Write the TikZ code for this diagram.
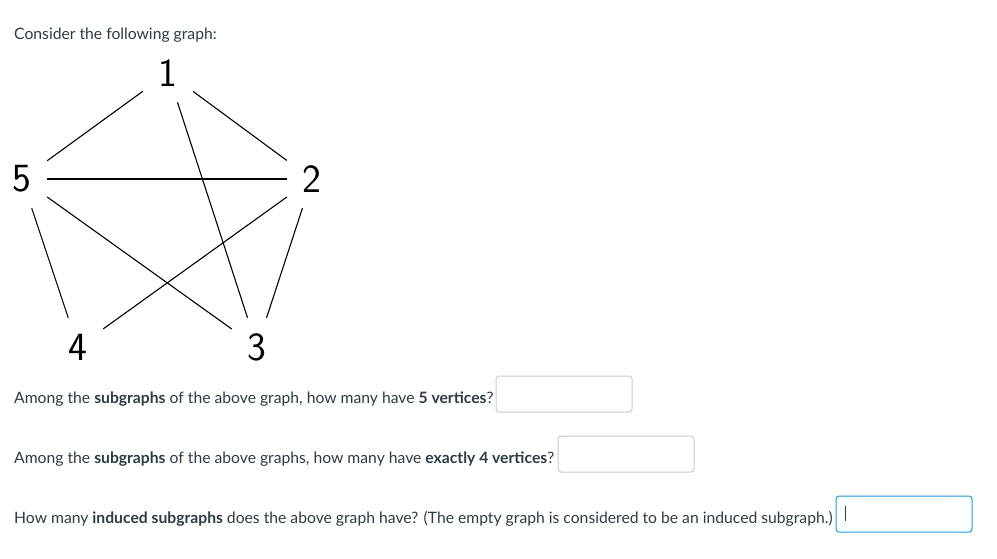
\documentclass[tikz,border=0pt]{standalone}
\usepackage{fontspec}
\setmainfont{Lato}
\usetikzlibrary{positioning}

\definecolor{inktext}{HTML}{2D3B45}
\definecolor{boxgray}{HTML}{C7CDD1}
\definecolor{focusblue}{HTML}{1D9BE0}

\begin{document}
\begin{tikzpicture}[x=1pt,y=-1pt,
    vertex/.style={rectangle,minimum width=50pt,minimum height=58pt,inner sep=0pt,
        font=\fontsize{40}{40}\sffamily},
    edge/.style={line width=1.1pt,black},
    question/.style={anchor=base west,inner sep=0pt,text=inktext,font=\fontsize{15.7}{18}\selectfont},
    answerbox/.style={draw=boxgray,line width=1pt,rounded corners=3pt,fill=white}
    ]
    \useasboundingbox (0,0) rectangle (997,559);
    \node[question] (intro) at (14,40) {Consider the following graph:};
    % the vertices
    \node[vertex] (v1) at (168,73) {1};
    \node[vertex] (v2) at (312,179) {2};
    \node[vertex] (v3) at (257,347) {3};
    \node[vertex] (v4) at (78,347) {4};
    \node[vertex] (v5) at (22,179) {5};
    % the edges
    \foreach \a/\b in {v1/v5,v1/v2,v1/v3,v5/v2,v5/v4,v5/v3,v2/v4,v2/v3}
        \draw[edge] (\a) -- (\b);
    % the questions
    \node[question] (qfive) at (14,403) {Among the \textbf{subgraphs} of the above graph, how many have \textbf{5 vertices}?};
    \draw[answerbox] (496,376) rectangle (632,412);
    \node[question] (qfour) at (14,463) {Among the \textbf{subgraphs} of the above graphs, how many have \textbf{exactly 4 vertices}?};
    \draw[answerbox] (558,436) rectangle (694,472);
    \node[question] (qinduced) at (14,523) {How many \textbf{induced subgraphs} does the above graph have? (The empty graph is considered to be an induced subgraph.)};
    \draw[answerbox,draw=focusblue] (836,496) rectangle (972,532);
    \draw[line width=1pt,inktext] (845,506) -- (845,521);
\end{tikzpicture}
\end{document}
